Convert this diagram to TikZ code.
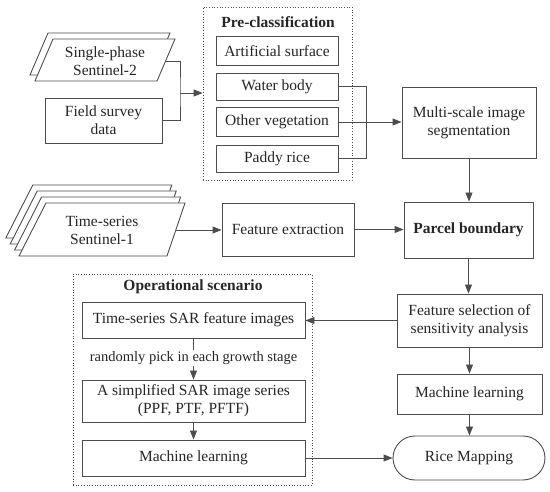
\documentclass[tikz,border=0pt]{standalone}
\usepackage{fontspec}
\setmainfont{Liberation Serif}
\usepackage{tikz}
\usetikzlibrary{arrows.meta,shapes.misc}
\definecolor{linegray}{HTML}{4D4D4D}

\begin{document}
\begin{tikzpicture}[x=1pt, y=-1pt, line width=0.9pt,
        every node/.style={font=\fontsize{15.5}{18}\selectfont, text=black!85},
        box/.style={draw=linegray, fill=white, align=center, inner sep=0pt},
        frame/.style={draw=linegray, dotted, line width=0.7pt, inner sep=0pt},
        stack/.style={draw=linegray, fill=white},
        conn/.style={draw=linegray},
        arr/.style={draw=linegray, -{Triangle[length=9pt,width=7pt]}},
        title/.style={font=\fontsize{15.5}{18}\selectfont\bfseries}]
        \useasboundingbox (0,0) rectangle (550,492);
        \foreach \k in {1,0}
        \filldraw[stack, shift={(-5*\k,-6*\k)}] 
        (53,39) -- (175,39) -- (157,81) -- (35,81) -- cycle;
        \foreach \k in {3,2,1,0}
        \filldraw[stack, shift={(-4.4*\k,-6*\k)}] 
        (46,203) -- (185,203) -- (167,256) -- (19,256) -- cycle;
        \node[align=center] (sen2) at (105,61) {Single-phase\\Sentinel-2};
        \node[align=center] (sen1) at (102,230) {Time-series\\Sentinel-1};
        \coordinate (sen2e) at (166,61);
        \coordinate (sen1e) at (176,230);
        \coordinate (join) at (180,93);
        \node[box, minimum width=117pt, minimum height=45pt] (field) 
        at (103.5,120.5) {Field survey\\data};
        \node[frame, minimum width=149pt, minimum height=173pt] (pre) 
        at (277.5,93.5) {};
        \node[title] (pretitle) at (278,22) {Pre-classification};
        \node[box, minimum width=122pt, minimum height=29pt] (artif) 
        at (277,51) {Artificial surface};
        \node[box, minimum width=122pt, minimum height=27pt] (water) 
        at (277,86.5) {Water body};
        \node[box, minimum width=122pt, minimum height=29pt] (veget) 
        at (277,122) {Other vegetation};
        \node[box, minimum width=122pt, minimum height=27pt] (paddy) 
        at (277,158.5) {Paddy rice};
        \node[box, minimum width=134pt, minimum height=71pt] (segm) 
        at (469,122.5) {Multi-scale image\\segmentation};
        \node[box, minimum width=132pt, minimum height=53pt] (fext) 
        at (288,229.5) {Feature extraction};
        \node[box, minimum width=129pt, minimum height=56pt, 
        font=\fontsize{15.5}{18}\selectfont\bfseries] (parcel) 
        at (468.5,230) {Parcel boundary};
        \node[box, minimum width=145pt, minimum height=53pt] (fsel) 
        at (469.5,320.5) {Feature selection of\\sensitivity analysis};
        \node[box, minimum width=145pt, minimum height=40pt] (mlearn) 
        at (469.5,394) {Machine learning};
        \node[draw=linegray, rounded rectangle, minimum width=152pt, 
        minimum height=44pt, inner sep=0pt] (rice) at (469,458) {Rice Mapping};
        \node[frame, minimum width=239pt, minimum height=211pt] (oper) 
        at (192.5,379.5) {};
        \node[title] (opertitle) at (193,287) {Operational scenario};
        \node[box, minimum width=223pt, minimum height=36pt] (tssar) 
        at (193.5,320) {Time-series SAR feature images};
        \node[fill=white, inner sep=1pt, font=\fontsize{14.5}{17}\selectfont] 
        (pick) at (193.5,358) {randomly pick in each growth stage};
        \node[box, minimum width=223pt, minimum height=42pt] (simp) 
        at (193.5,401) {A simplified SAR image series\\(PPF, PTF, PFTF)};
        \node[box, minimum width=223pt, minimum height=36pt] (mlop) 
        at (193.5,458) {Machine learning};
        \draw[conn] (sen2e) -| (join) |- (field.east);
        \draw[arr] (join) -- (join -| pre.west);
        \draw[conn] (water.east) -- ++(28,0) |- (paddy.east);
        \draw[arr] (veget.east) -- (veget.east -| segm.west);
        \draw[arr] (segm.south) -- (segm.south |- parcel.north);
        \draw[arr] (sen1e) -- (sen1e -| fext.west);
        \draw[arr] (fext.east) -- (fext.east -| parcel.west);
        \draw[arr] (parcel.south) -- (parcel.south |- fsel.north);
        \draw[arr] (fsel.west) -- (fsel.west -| tssar.east);
        \draw[arr] (fsel.south) -- (fsel.south |- mlearn.north);
        \draw[arr] (mlearn.south) -- (mlearn.south |- rice.north);
        \draw[conn] (tssar) -- (pick);
        \draw[arr] (pick) -- (simp);
        \draw[arr] (simp) -- (mlop);
        \draw[arr] (mlop.east) -- (rice.west);
    \end{tikzpicture}
\end{document}
